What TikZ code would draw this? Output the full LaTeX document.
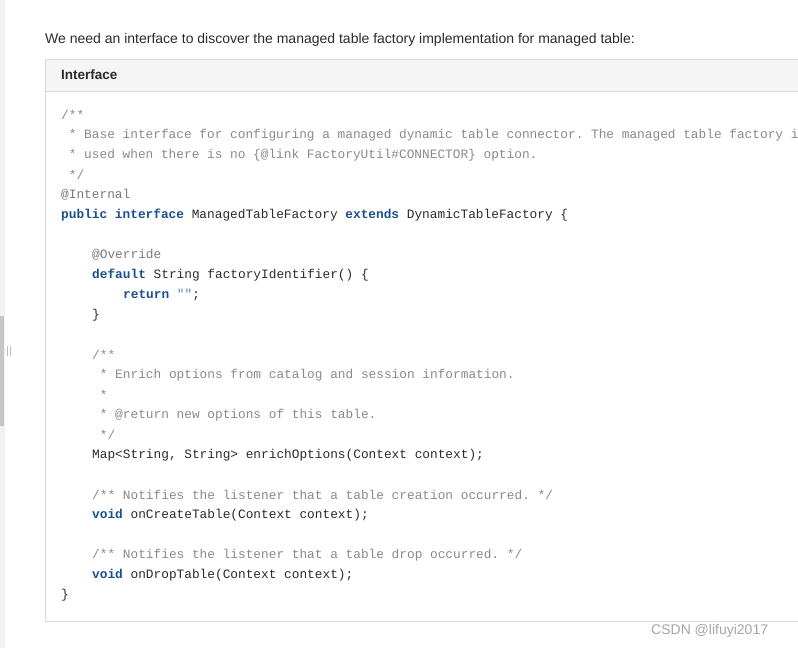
\documentclass[tikz,border=0pt]{standalone}
\usepackage{fontspec}
\setmainfont{Liberation Sans}
\setmonofont{Liberation Mono}
\definecolor{kw}{HTML}{1B4F8F}
\definecolor{cm}{HTML}{8A8A8A}
\definecolor{an}{HTML}{7A7A7A}
\definecolor{st}{HTML}{6A8BB0}
\definecolor{tx}{HTML}{2B2B2B}
\newcommand{\kw}[1]{\textcolor{kw}{\bfseries #1}}
\newcommand{\cm}[1]{\textcolor{cm}{#1}}
\newcommand{\an}[1]{\textcolor{an}{#1}}
\tikzset{code/.style={anchor=west,inner sep=0pt,font=\ttfamily\fontsize{12.8}{14}\selectfont,text=tx}}
\begin{document}
\begin{tikzpicture}[x=1pt,y=-1pt]
\useasboundingbox (0,0) rectangle (798,648);
\fill[white] (0,0) rectangle (798,648);
\fill[gray!10] (0,0) rectangle (5,648);
\fill[gray!45] (0,316) rectangle (4,426);
\node[anchor=center,inner sep=0pt,text=gray!55,font=\fontsize{11}{12}\selectfont] (grip) at (9,352) {||};
\node[anchor=west,inner sep=0pt,text=tx,font=\fontsize{14}{16}\selectfont] (intro) at (45,40) {We need an interface to discover the managed table factory implementation for managed table:};
\draw[gray!30,fill=white] (45.5,59.5) rectangle (810,621);
\fill[gray!8] (46,60) rectangle (810,91);
\draw[gray!30] (46,91) -- (810,91);
\node[anchor=west,inner sep=0pt,text=tx,font=\bfseries\fontsize{13.5}{15}\selectfont] (hdr) at (61,75) {Interface};
\node[code] (l1) at (61,115) {\cm{/**}};
\node[code] (l2) at (61,135) {\cm{\ * Base interface for configuring a managed dynamic table connector. The managed table factory i}};
\node[code] (l3) at (61,155) {\cm{\ * used when there is no \{@link FactoryUtil\#CONNECTOR\} option.}};
\node[code] (l4) at (61,175) {\cm{\ */}};
\node[code] (l5) at (61,195) {\an{@Internal}};
\node[code] (l6) at (61,215) {\kw{public interface} ManagedTableFactory \kw{extends} DynamicTableFactory \{};
\node[code] (l7) at (92,255) {\an{@Override}};
\node[code] (l8) at (92,275) {\kw{default} String factoryIdentifier() \{};
\node[code] (l9) at (123,295) {\kw{return} \textcolor{st}{""};};
\node[code] (l10) at (92,315) {\}};
\node[code] (l11) at (92,355) {\cm{/**}};
\node[code] (l12) at (92,375) {\cm{\ * Enrich options from catalog and session information.}};
\node[code] (l13) at (92,395) {\cm{\ *}};
\node[code] (l14) at (92,415) {\cm{\ * @return new options of this table.}};
\node[code] (l15) at (92,435) {\cm{\ */}};
\node[code] (l16) at (92,455) {Map<String, String> enrichOptions(Context context);};
\node[code] (l17) at (92,495) {\cm{/** Notifies the listener that a table creation occurred. */}};
\node[code] (l18) at (92,515) {\kw{void} onCreateTable(Context context);};
\node[code] (l19) at (92,555) {\cm{/** Notifies the listener that a table drop occurred. */}};
\node[code] (l20) at (92,575) {\kw{void} onDropTable(Context context);};
\node[code] (l21) at (61,595) {\}};
\node[anchor=west,inner sep=0pt,text=gray!70,font=\fontsize{14}{16}\selectfont] (wm) at (651,631) {CSDN @lifuyi2017};
\end{tikzpicture}
\end{document}
